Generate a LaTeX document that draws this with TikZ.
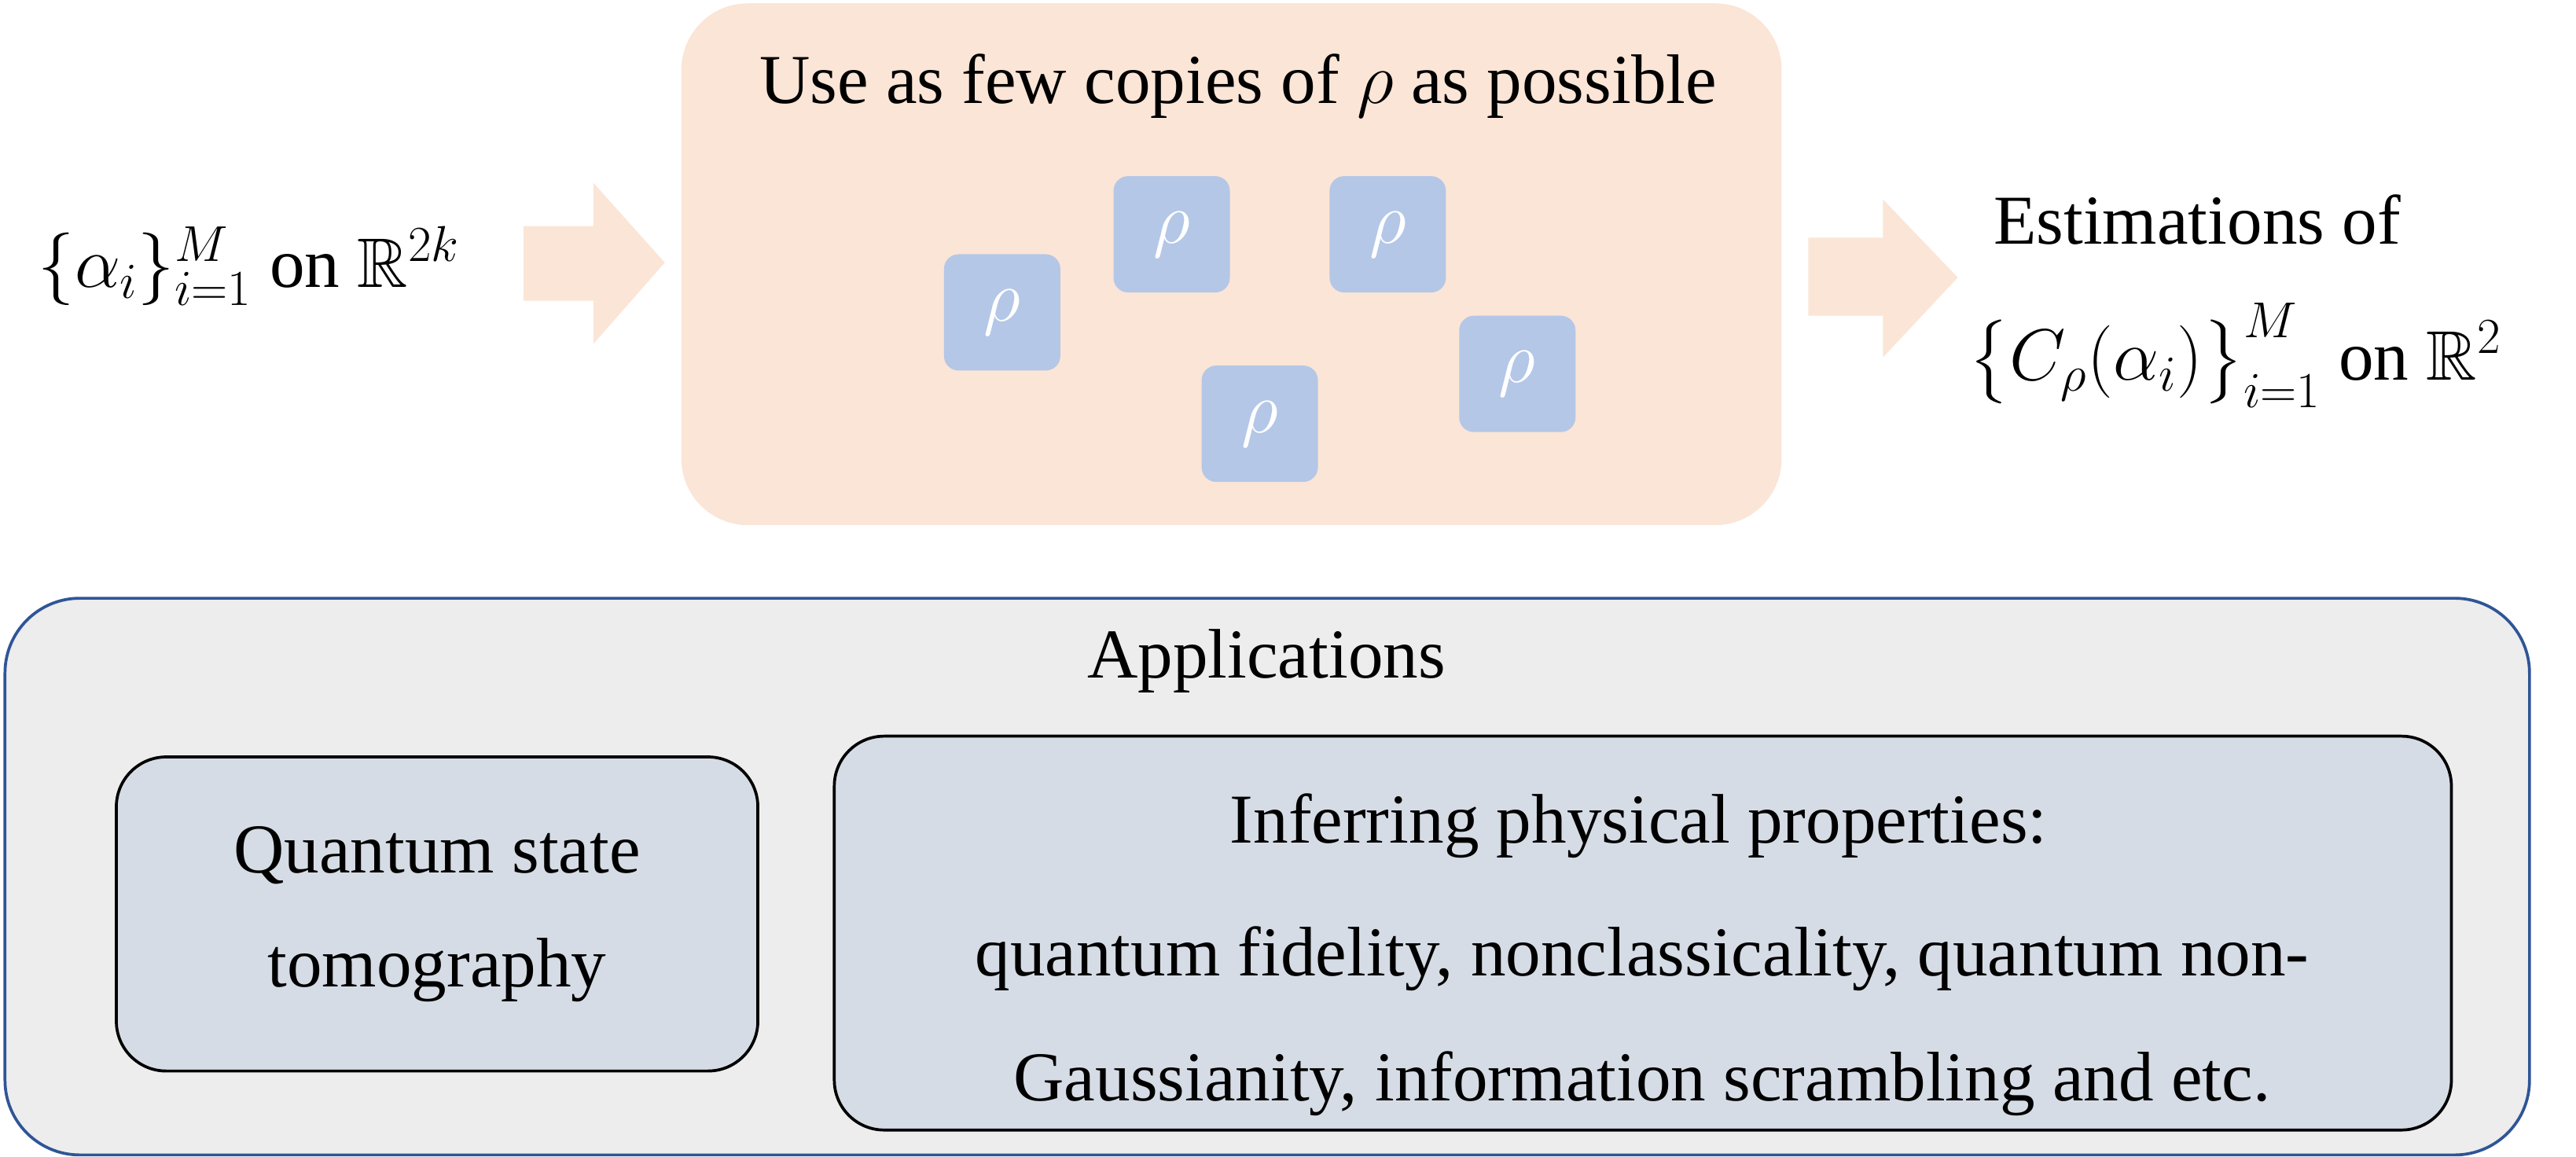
\documentclass[tikz,border=0pt]{standalone}
\usepackage{amsmath,amssymb}
\usepackage{fontspec}
\setmainfont{Liberation Serif}
\definecolor{peach}{HTML}{FBE5D6}
\definecolor{rhoc}{HTML}{B4C7E7}
\definecolor{appg}{HTML}{EDEDED}
\definecolor{appb}{HTML}{2F5597}
\definecolor{boxc}{HTML}{D6DCE5}
\begin{document}
\begin{tikzpicture}[x=0.02cm,y=-0.02cm,
  txt/.style={font=\fontsize{24}{29}\selectfont},
  rho/.style={fill=rhoc,rounded corners=5pt,minimum size=1.4cm,text=white,font=\fontsize{24}{29}\selectfont,inner sep=0pt},
  sub/.style={fill=boxc,draw=black,line width=1pt,rounded corners=0.6cm,align=center}]
\useasboundingbox (0,0) rectangle (1550,696);
\node[fill=peach,rounded corners=0.8cm,minimum width=662*0.02cm,minimum height=314*0.02cm,inner sep=0pt] (top) at (741,159) {};
\node[txt] (title) at (745,52) {Use as few copies of $\rho$ as possible};
\node[rho] (r1) at (603,188) {$\rho$};
\node[rho] (r2) at (705,141) {$\rho$};
\node[rho] (r3) at (835,141) {$\rho$};
\node[rho] (r4) at (758,255) {$\rho$};
\node[rho] (r5) at (913,225) {$\rho$};
\node[txt] (in) at (150,160) {$\{\alpha_i\}_{i=1}^{M}$ on $\mathbb{R}^{2k}$};
\fill[peach] (315,136) -- (357,136) -- (357,110) -- (400,158) -- (357,207) -- (357,181) -- (315,181) -- cycle;
\fill[peach] (1088,143) -- (1133,143) -- (1133,120) -- (1178,167) -- (1133,215) -- (1133,190) -- (1088,190) -- cycle;
\node[txt] (o1) at (1322,132) {Estimations of};
\node[txt] (o2) at (1345,214) {$\bigl\{C_\rho(\alpha_i)\bigr\}_{i=1}^{M}$ on $\mathbb{R}^2$};
\node[fill=appg,draw=appb,line width=1pt,rounded corners=0.9cm,minimum width=1519*0.02cm,minimum height=335*0.02cm,inner sep=0pt] (app) at (762.5,527.5) {};
\node[txt] (apt) at (762,398) {Applications};
\node[sub,minimum width=386*0.02cm,minimum height=189*0.02cm] (b1) at (263,550) {};
\node[txt,align=center] (b1t) at (263,550) {Quantum state\\[10pt]tomography};
\node[sub,minimum width=973*0.02cm,minimum height=237*0.02cm] (b2) at (988.5,561.5) {};
\node[txt] (l1) at (986,497) {Inferring physical properties:};
\node[txt] (l2) at (988,577) {quantum fidelity, nonclassicality, quantum non-};
\node[txt] (l3) at (988,652) {Gaussianity, information scrambling and etc.};
\end{tikzpicture}
\end{document}
